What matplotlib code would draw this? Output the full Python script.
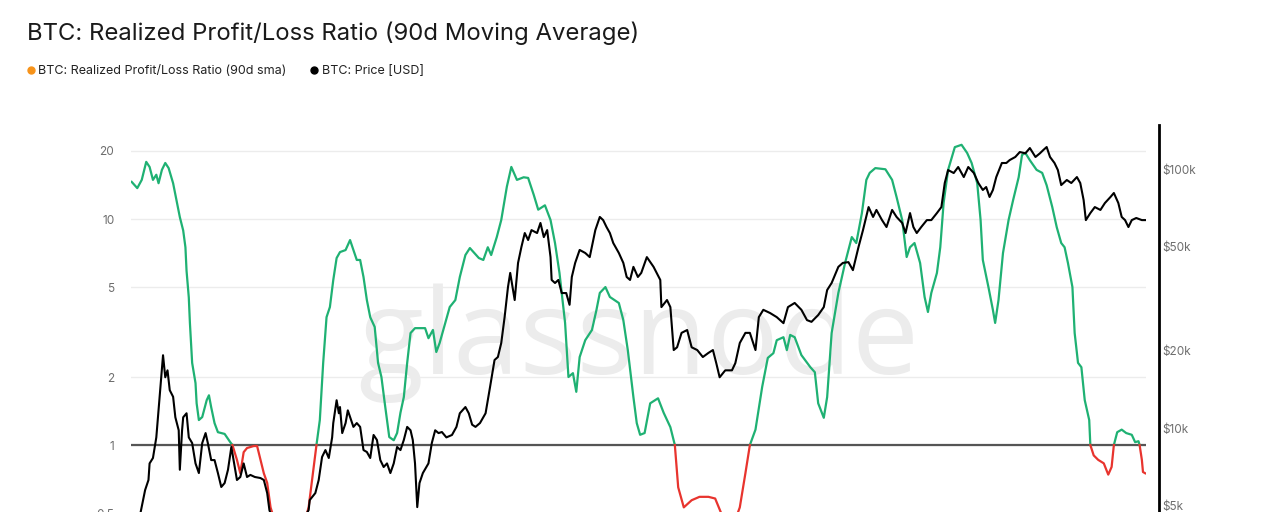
import numpy as np
import matplotlib
matplotlib.use("Agg")
import matplotlib.pyplot as plt
from matplotlib.lines import Line2D

plt.rcParams['font.family'] = ['Inter', 'DejaVu Sans']

# realized profit/loss ratio (90d sma), time in decimal years
ratio_t = [2017.67, 2017.72, 2017.76, 2017.80, 2017.83, 2017.86, 2017.89, 2017.91, 2017.94, 2017.97,
           2018.00, 2018.04, 2018.07, 2018.10, 2018.13, 2018.15, 2018.16, 2018.18, 2018.19, 2018.21,
           2018.24, 2018.25, 2018.27, 2018.30, 2018.34, 2018.36, 2018.38, 2018.41, 2018.44, 2018.50,
           2018.55, 2018.57, 2018.61, 2018.64, 2018.67, 2018.70, 2018.76, 2018.79, 2018.82, 2018.85,
           2018.88, 2018.91, 2019.00, 2019.13, 2019.25, 2019.32, 2019.35, 2019.38, 2019.41, 2019.44,
           2019.47, 2019.50, 2019.53, 2019.58, 2019.62, 2019.65, 2019.68, 2019.71, 2019.74, 2019.77,
           2019.80, 2019.84, 2019.87, 2019.90, 2019.93, 2019.97, 2020.01, 2020.04, 2020.07, 2020.10,
           2020.13, 2020.16, 2020.20, 2020.29, 2020.32, 2020.36, 2020.39, 2020.42, 2020.47, 2020.51,
           2020.56, 2020.60, 2020.65, 2020.69, 2020.77, 2020.81, 2020.85, 2020.88, 2020.93, 2020.97,
           2021.02, 2021.06, 2021.11, 2021.17, 2021.21, 2021.26, 2021.30, 2021.36, 2021.41, 2021.45,
           2021.49, 2021.54, 2021.57, 2021.61, 2021.64, 2021.67, 2021.72, 2021.78, 2021.82, 2021.85,
           2021.90, 2021.94, 2022.02, 2022.06, 2022.10, 2022.15, 2022.18, 2022.21, 2022.25, 2022.30,
           2022.37, 2022.42, 2022.48, 2022.52, 2022.55, 2022.60, 2022.67, 2022.74, 2022.82, 2022.88,
           2022.92, 2023.01, 2023.10, 2023.15, 2023.19, 2023.24, 2023.30, 2023.35, 2023.40, 2023.43,
           2023.49, 2023.52, 2023.55, 2023.59, 2023.65, 2023.73, 2023.77, 2023.80, 2023.85, 2023.88,
           2023.92, 2023.98, 2024.04, 2024.10, 2024.14, 2024.19, 2024.23, 2024.26, 2024.31, 2024.40,
           2024.46, 2024.50, 2024.55, 2024.59, 2024.62, 2024.66, 2024.71, 2024.75, 2024.78, 2024.81,
           2024.86, 2024.89, 2024.92, 2024.96, 2025.02, 2025.08, 2025.13, 2025.17, 2025.22, 2025.25,
           2025.27, 2025.32, 2025.36, 2025.38, 2025.41, 2025.45, 2025.50, 2025.54, 2025.59, 2025.62,
           2025.65, 2025.69, 2025.75, 2025.80, 2025.84, 2025.89, 2025.93, 2025.97, 2026.00, 2026.03,
           2026.07, 2026.09, 2026.12, 2026.15, 2026.18, 2026.22, 2026.23, 2026.26, 2026.30, 2026.35,
           2026.39, 2026.42, 2026.44, 2026.47, 2026.51, 2026.55, 2026.60, 2026.63, 2026.66, 2026.67,
           2026.69, 2026.70, 2026.72]
ratio = [14.6, 13.7, 14.9, 17.9, 17.0, 14.9, 15.7, 14.4, 16.5, 17.7,
         16.8, 14.4, 12.1, 10.2, 8.9, 7.5, 5.9, 4.5, 3.47, 2.31,
         1.88, 1.53, 1.29, 1.33, 1.58, 1.66, 1.47, 1.25, 1.14, 1.12,
         1.03, 1.0, 0.86, 0.75, 0.93, 0.97, 0.99, 0.99, 0.86, 0.75,
         0.68, 0.53, 0.38, 0.33, 0.53, 1.0, 1.29, 2.31, 3.68, 4.08,
         5.37, 6.72, 7.14, 7.29, 8.07, 7.29, 6.59, 6.59, 5.54, 4.38,
         3.68, 3.33, 2.31, 2.0, 1.53, 1.085, 1.05, 1.13, 1.39, 1.63,
         2.31, 3.13, 3.29, 3.29, 2.97, 3.23, 2.58, 2.83, 3.47, 4.08,
         4.38, 5.54, 6.93, 7.44, 6.72, 6.59, 7.5, 6.93, 8.32, 9.9,
         13.9, 17.0, 14.9, 15.3, 15.2, 12.8, 11.0, 11.5, 9.9, 7.83,
         5.77, 3.47, 2.0, 2.08, 1.72, 2.45, 2.91, 3.23, 3.96, 4.71,
         5.0, 4.52, 4.25, 3.57, 2.63, 1.63, 1.25, 1.11, 1.13, 1.53,
         1.61, 1.39, 1.20, 1.0, 0.65, 0.53, 0.57, 0.59, 0.59, 0.58,
         0.52, 0.40, 0.53, 0.75, 1.0, 1.17, 1.81, 2.43, 2.55, 2.91,
         3.0, 2.63, 3.07, 3.0, 2.5, 2.21, 2.10, 1.53, 1.32, 1.63,
         3.13, 4.71, 6.39, 8.32, 7.83, 10.6, 14.9, 16.0, 16.8, 16.6,
         14.9, 12.5, 9.9, 6.79, 7.5, 7.83, 6.39, 4.52, 3.88, 4.71,
         5.77, 7.5, 11.8, 16.5, 20.8, 21.3, 19.6, 17.7, 14.4, 9.9,
         6.59, 5.0, 3.96, 3.47, 4.38, 7.07, 9.9, 12.1, 15.3, 19.2,
         19.6, 18.2, 16.5, 16.0, 14.1, 11.3, 9.2, 7.83, 7.5, 6.39,
         5.0, 3.13, 2.31, 2.21, 1.58, 1.29, 1.0, 0.90, 0.86, 0.83,
         0.74, 0.80, 1.0, 1.14, 1.17, 1.13, 1.11, 1.03, 1.04, 1.0,
         0.86, 0.76, 0.75]

# BTC price in thousands of USD
price_t = [2017.70, 2017.79, 2017.82, 2017.83, 2017.86, 2017.89, 2017.92, 2017.95, 2017.97, 2017.99,
           2018.01, 2018.04, 2018.06, 2018.09, 2018.10, 2018.12, 2018.13, 2018.16, 2018.18, 2018.21,
           2018.24, 2018.27, 2018.30, 2018.33, 2018.35, 2018.38, 2018.41, 2018.44, 2018.47, 2018.50,
           2018.53, 2018.56, 2018.58, 2018.61, 2018.64, 2018.67, 2018.70, 2018.73, 2018.77, 2018.82,
           2018.85, 2018.88, 2018.90, 2019.00, 2019.13, 2019.25, 2019.26, 2019.31, 2019.34, 2019.37,
           2019.40, 2019.43, 2019.46, 2019.47, 2019.50, 2019.52, 2019.53, 2019.55, 2019.58, 2019.60,
           2019.63, 2019.65, 2019.68, 2019.71, 2019.74, 2019.77, 2019.80, 2019.83, 2019.86, 2019.89,
           2019.92, 2019.95, 2019.98, 2020.01, 2020.04, 2020.07, 2020.10, 2020.13, 2020.16, 2020.18,
           2020.20, 2020.22, 2020.24, 2020.27, 2020.32, 2020.35, 2020.38, 2020.41, 2020.44, 2020.48,
           2020.53, 2020.57, 2020.60, 2020.65, 2020.68, 2020.71, 2020.74, 2020.78, 2020.83, 2020.87,
           2020.91, 2020.94, 2020.97, 2021.00, 2021.03, 2021.05, 2021.09, 2021.12, 2021.15, 2021.18,
           2021.21, 2021.24, 2021.29, 2021.32, 2021.35, 2021.38, 2021.41, 2021.42, 2021.45, 2021.48,
           2021.51, 2021.55, 2021.58, 2021.60, 2021.63, 2021.67, 2021.72, 2021.76, 2021.81, 2021.85,
           2021.88, 2021.91, 2021.94, 2021.97, 2022.02, 2022.06, 2022.09, 2022.12, 2022.15, 2022.19,
           2022.22, 2022.27, 2022.33, 2022.39, 2022.40, 2022.45, 2022.48, 2022.51, 2022.54, 2022.58,
           2022.63, 2022.67, 2022.72, 2022.77, 2022.82, 2022.86, 2022.89, 2022.92, 2022.97, 2023.03,
           2023.06, 2023.10, 2023.15, 2023.19, 2023.24, 2023.27, 2023.31, 2023.37, 2023.43, 2023.49,
           2023.53, 2023.59, 2023.65, 2023.70, 2023.74, 2023.80, 2023.85, 2023.88, 2023.92, 2023.98,
           2024.02, 2024.07, 2024.11, 2024.16, 2024.20, 2024.25, 2024.29, 2024.32, 2024.37, 2024.41,
           2024.46, 2024.50, 2024.55, 2024.58, 2024.62, 2024.65, 2024.68, 2024.72, 2024.77, 2024.81,
           2024.86, 2024.90, 2024.93, 2024.96, 2025.01, 2025.05, 2025.10, 2025.14, 2025.19, 2025.23,
           2025.27, 2025.30, 2025.33, 2025.36, 2025.39, 2025.44, 2025.48, 2025.51, 2025.56, 2025.60,
           2025.65, 2025.69, 2025.74, 2025.78, 2025.81, 2025.84, 2025.87, 2025.91, 2025.94, 2025.97,
           2026.02, 2026.06, 2026.11, 2026.14, 2026.17, 2026.19, 2026.23, 2026.27, 2026.32, 2026.36,
           2026.41, 2026.44, 2026.48, 2026.51, 2026.54, 2026.57, 2026.60, 2026.64, 2026.69, 2026.72]
price_k = [3.7, 5.76, 6.3, 7.3, 7.66, 9.2, 13.2, 19.1, 15.7, 16.7,
           14.0, 13.2, 11.0, 9.8, 6.9, 9.8, 11.0, 11.4, 9.2, 8.75,
           7.3, 6.7, 8.75, 9.56, 8.75, 7.52, 7.52, 6.7, 5.92, 6.13,
           6.9, 8.45, 7.52, 6.3, 6.47, 7.3, 6.47, 6.59, 6.47, 6.41,
           6.3, 5.61, 4.82, 3.6, 3.9, 4.82, 5.27, 5.61, 6.3, 7.73,
           8.22, 7.66, 9.2, 10.45, 12.8, 11.4, 12.05, 9.56, 10.45, 11.7,
           10.7, 10.1, 10.45, 10.1, 8.22, 8.08, 7.66, 9.4, 8.99, 7.52,
           7.07, 7.3, 6.7, 7.3, 8.45, 8.22, 8.99, 10.1, 9.8, 8.99,
           7.3, 4.95, 6.13, 6.7, 7.3, 8.75, 9.8, 9.56, 9.65, 9.2,
           9.4, 10.1, 11.4, 12.05, 11.4, 10.3, 10.1, 10.45, 11.4, 14.4,
           18.3, 18.8, 21.3, 26.8, 35.0, 39.7, 31.2, 43.4, 50.0, 56.6,
           53.2, 58.1, 56.6, 61.9, 54.6, 58.1, 45.7, 37.3, 36.3, 37.3,
           33.2, 33.2, 29.9, 38.3, 43.4, 48.7, 47.4, 45.7, 58.1, 65.3,
           63.5, 59.7, 56.6, 51.8, 47.4, 43.4, 38.3, 37.3, 41.9, 38.3,
           39.7, 45.7, 41.9, 37.3, 29.3, 31.2, 29.3, 20.0, 20.5, 23.3,
           23.9, 20.5, 20.0, 18.8, 19.5, 20.0, 17.8, 15.7, 16.7, 16.7,
           17.8, 21.3, 23.3, 23.3, 20.0, 26.8, 28.6, 27.8, 26.8, 25.4,
           29.3, 30.4, 28.6, 26.1, 25.7, 27.3, 29.3, 34.1, 36.3, 41.9,
           43.4, 43.7, 40.7, 50.0, 58.1, 71.3, 65.3, 69.5, 63.5, 59.7,
           69.5, 65.3, 61.9, 56.6, 67.6, 59.7, 56.6, 59.7, 63.5, 63.5,
           67.6, 71.3, 88.3, 99.1, 96.5, 101.8, 93.1, 101.8, 96.5, 88.3,
           83.0, 85.2, 78.0, 83.0, 93.1, 105.5, 105.5, 108.3, 111.3, 116.3,
           115.0, 120.5, 111.3, 115.0, 118.4, 121.6, 111.3, 105.5, 99.1, 86.7,
           90.7, 88.3, 93.1, 88.3, 75.9, 63.5, 67.6, 71.3, 69.5, 73.9,
           78.0, 80.8, 73.9, 65.3, 63.5, 59.7, 63.5, 64.7, 63.5, 63.5]

left_ticks = [0.5, 1, 2, 5, 10, 20]
left_labels = ['0.5', '1', '2', '5', '10', '20']
right_ticks = [5000, 10000, 20000, 50000, 100000]
right_labels = ['$5k', '$10k', '$20k', '$50k', '$100k']

green = '#1fb173'
red = '#e8342e'
grey_txt = '#6e6e6e'

fig = plt.figure(figsize=(12.8, 5.12), dpi=100)
# plot area runs below the bottom edge, as in the cropped reference
ax = fig.add_axes([131 / 1280, (512 - 570) / 512, 1015 / 1280, 445 / 512])
ax2 = ax.twinx()

r = np.array(ratio)
t = np.array(ratio_t)
ax.plot(t, np.ma.masked_where(r < 1, r), color=green, lw=1.6, zorder=3)
ax.plot(t, np.ma.masked_where(r > 1, r), color=red, lw=1.6, zorder=3)

ax.set_yscale('log')
ax.set_ylim(0.28, 26.06)
ax.set_xlim(2017.664, 2026.727)
ax.set_yticks(left_ticks)
ax.set_yticklabels(left_labels)
ax.minorticks_off()
ax.set_xticks([])
ax.tick_params(axis='y', length=0, pad=12, labelsize=8.5, labelcolor=grey_txt)
ax.grid(axis='y', color='#ececec', lw=1)
ax.axhline(1, color='#555555', lw=1.6, zorder=2)
for s in ax.spines.values():
    s.set_visible(False)

ax.text(0.5, 0.51, 'glassnode', transform=ax.transAxes, ha='center', va='center',
        fontsize=86, color='#ececec', family=['Open Sans', 'DejaVu Sans'], zorder=0)

ax2.plot(price_t, np.array(price_k) * 1000, color='black', lw=1.5, zorder=4)
ax2.set_yscale('log')
ax2.set_ylim(2830, 147900)
ax2.set_yticks(right_ticks)
ax2.set_yticklabels(right_labels)
ax2.minorticks_off()
ax2.tick_params(axis='y', length=0, pad=3, labelsize=8.5, labelcolor=grey_txt)
for name, s in ax2.spines.items():
    s.set_visible(name == 'right')
ax2.spines['right'].set_position(('outward', 9))
ax2.spines['right'].set_color('black')
ax2.spines['right'].set_linewidth(2)

fig.text(27 / 1280, 1 - 33 / 512, 'BTC: Realized Profit/Loss Ratio (90d Moving Average)',
         fontsize=17.2, color='#1a1a1a', va='center', ha='left')

handles = [Line2D([], [], ls='none', marker='o', ms=5, color='#f7931a'),
           Line2D([], [], ls='none', marker='o', ms=5, color='black')]
fig.legend(handles, ['BTC: Realized Profit/Loss Ratio (90d sma)', 'BTC: Price [USD]'],
           loc='center left', bbox_to_anchor=(27 / 1280, 1 - 71 / 512), ncol=2, frameon=False,
           fontsize=9, handlelength=0.6, handletextpad=0.3, columnspacing=1.9,
           borderpad=0, borderaxespad=0, labelcolor='#222222')

fig.savefig('out.png', dpi=100)
